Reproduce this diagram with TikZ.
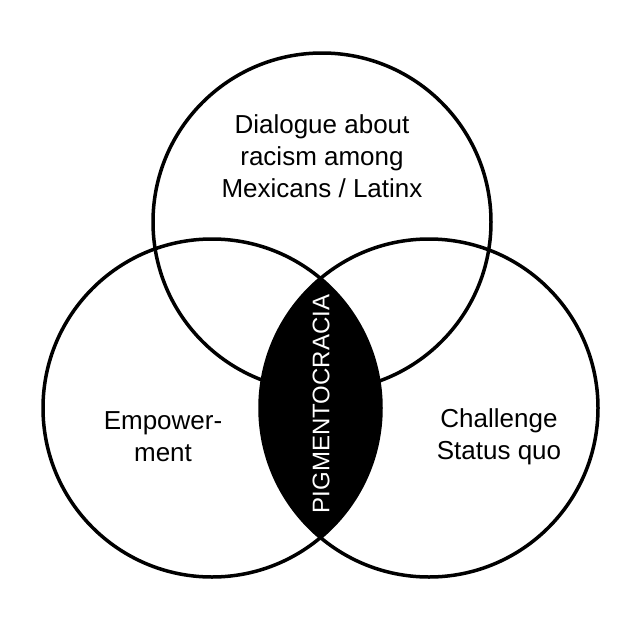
\documentclass[tikz,border=0pt]{standalone}
\usepackage{fontspec}
\setmainfont{Liberation Sans}
\begin{document}
\begin{tikzpicture}[x=1pt,y=-1pt,
  setcircle/.style={circle, draw=black, line width=3.5pt, minimum size=338pt, inner sep=0pt},
  label/.style={align=center, font=\fontsize{26}{32}\selectfont, text=black},
  lenslabel/.style={font=\fontsize{24}{28}\selectfont, text=white, rotate=90}]
\useasboundingbox[fill=white] (0,0) rectangle (640,640);
\coordinate (ct) at (322,222);
\coordinate (cl) at (212,408);
\coordinate (cr) at (429,408);
\node[setcircle] (topc) at (ct) {};
\node[setcircle] (leftc) at (cl) {};
\node[setcircle] (rightc) at (cr) {};
\begin{scope}
  \clip (cl) circle[radius=169pt];
  \fill[black] (cr) circle[radius=169pt];
\end{scope}
\node[label] (ttop) at (322,156) {Dialogue about\\racism among\\Mexicans / Latinx};
\node[label] (tleft) at (163,437) {Empower-\\ment};
\node[label] (tright) at (499,437) {Challenge\\Status quo};
\node[lenslabel] (tlens) at (321,404) {PIGMENTOCRACIA};
\end{tikzpicture}
\end{document}
